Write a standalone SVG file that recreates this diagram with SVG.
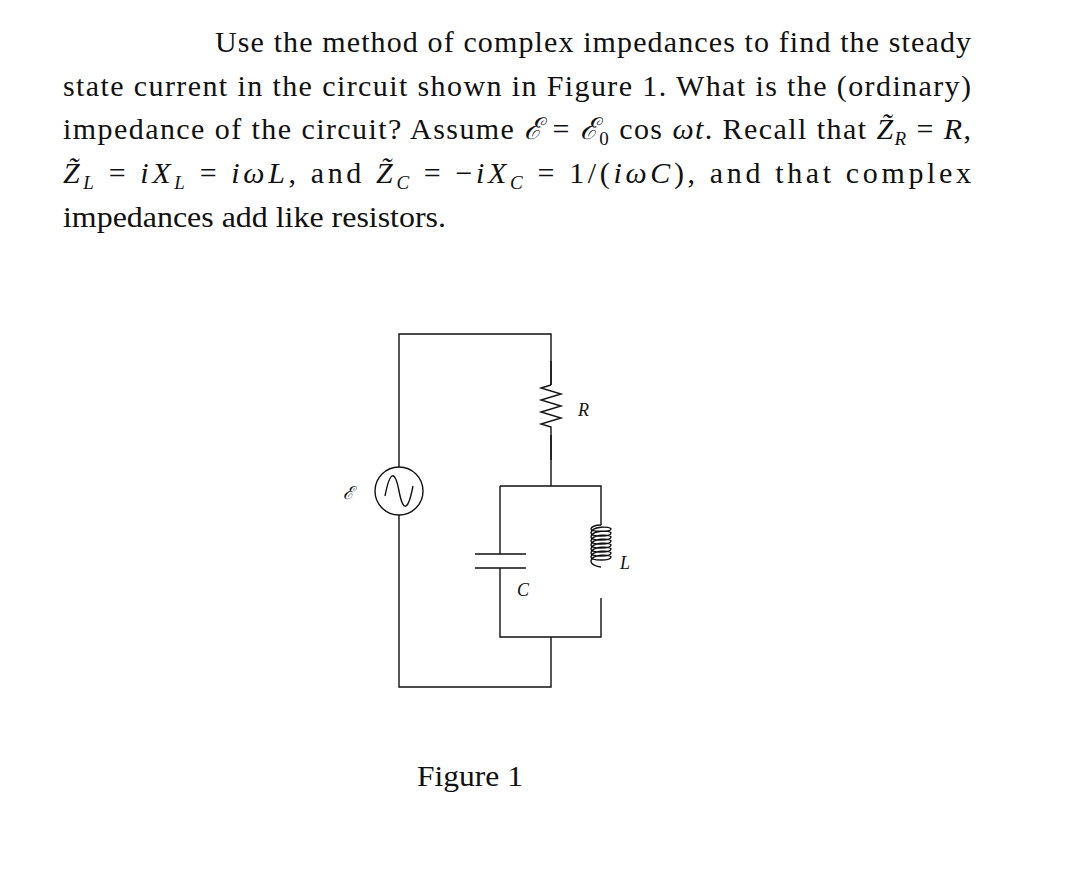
<svg xmlns="http://www.w3.org/2000/svg" width="1074" height="879" viewBox="0 0 1074 879">
<style>
.t{font-family:"Liberation Serif",serif;font-size:30px;fill:#111}
.i{font-style:italic}
.w{fill:none;stroke:#111;stroke-width:1.4}
.lb{font-family:"Liberation Serif",serif;font-size:18px;font-style:italic;fill:#111}
</style>
<rect width="1074" height="879" fill="#fff"/>
<g id="text">
<text class="t" x="215" y="52" textLength="756" lengthAdjust="spacing">Use the method of complex impedances to find the steady</text>
<text class="t" x="63" y="96" textLength="908" lengthAdjust="spacing">state current in the circuit shown in Figure 1. What is the (ordinary)</text>
<text class="t" x="63" y="139" textLength="908" lengthAdjust="spacing">impedance of the circuit? Assume <tspan class="i">ℰ</tspan> = <tspan class="i">ℰ</tspan><tspan font-size="19" dy="6">0</tspan><tspan dy="-6"> cos </tspan><tspan class="i">ωt</tspan>. Recall that <tspan class="i">Z̃</tspan><tspan class="i" font-size="19" dy="6">R</tspan><tspan dy="-6"> = </tspan><tspan class="i">R</tspan>,</text>
<text class="t" x="63" y="183" textLength="908" lengthAdjust="spacing"><tspan class="i">Z̃</tspan><tspan class="i" font-size="19" dy="6">L</tspan><tspan dy="-6"> = </tspan><tspan class="i">iX</tspan><tspan class="i" font-size="19" dy="6">L</tspan><tspan dy="-6"> = </tspan><tspan class="i">iωL</tspan>, and <tspan class="i">Z̃</tspan><tspan class="i" font-size="19" dy="6">C</tspan><tspan dy="-6"> = −</tspan><tspan class="i">iX</tspan><tspan class="i" font-size="19" dy="6">C</tspan><tspan dy="-6"> = 1/(</tspan><tspan class="i">iωC</tspan>), and that complex</text>
<text class="t" x="63" y="227" textLength="383" lengthAdjust="spacingAndGlyphs">impedances add like resistors.</text>
<text class="t" x="417" y="786" textLength="106" lengthAdjust="spacingAndGlyphs">Figure 1</text>
</g>
<g id="connectors">
<path class="w" d="M399,467 V334 H551 V385 M551,435 V486 M500,486 H601 V525 M601,598 V637 H500 V568 M500,554 V486 M551,637 V687 H399 V515"/>
</g>
<g id="resistor">
<path class="w" d="M551,361 V385"/>
<path class="w" d="M551,385 l-10,3 l20,6 l-20,6 l20,6 l-20,6 l20,6 l-20,6 l10,3 V460"/>
<text class="lb" x="578" y="416">R</text>
</g>
<g id="source">
<circle class="w" cx="399" cy="491" r="24"/>
<path class="w" d="M385,496 C390,470 395,470 399,491 C403,512 408,512 413,486"/>
<text class="lb" x="343" y="499" font-size="20">ℰ</text>
</g>
<g id="capacitor">
<path class="w" d="M475,554 H526 M475,568 H526"/>
<text class="lb" x="517" y="596">C</text>
</g>
<g id="inductor">
<path class="w" d="M601,525 c-6,0 -10,2 -10,4 c0,3 20,3 20,0 c0,-3 -20,-3 -20,4 c0,4 20,4 20,0 c0,-3 -20,-3 -20,4 c0,4 20,4 20,0 c0,-3 -20,-3 -20,4 c0,4 20,4 20,0 c0,-3 -20,-3 -20,4 c0,4 20,4 20,0 c0,-3 -20,-3 -20,4 c0,4 20,4 20,0 c0,-3 -20,-3 -20,4 c0,4 20,4 20,0 c0,-3 -20,-3 -20,4 c0,4 20,4 20,0 c0,-3 -20,-3 -20,4 c0,5 10,6 10,6"/>
<text class="lb" x="620" y="569">L</text>
</g>
</svg>
